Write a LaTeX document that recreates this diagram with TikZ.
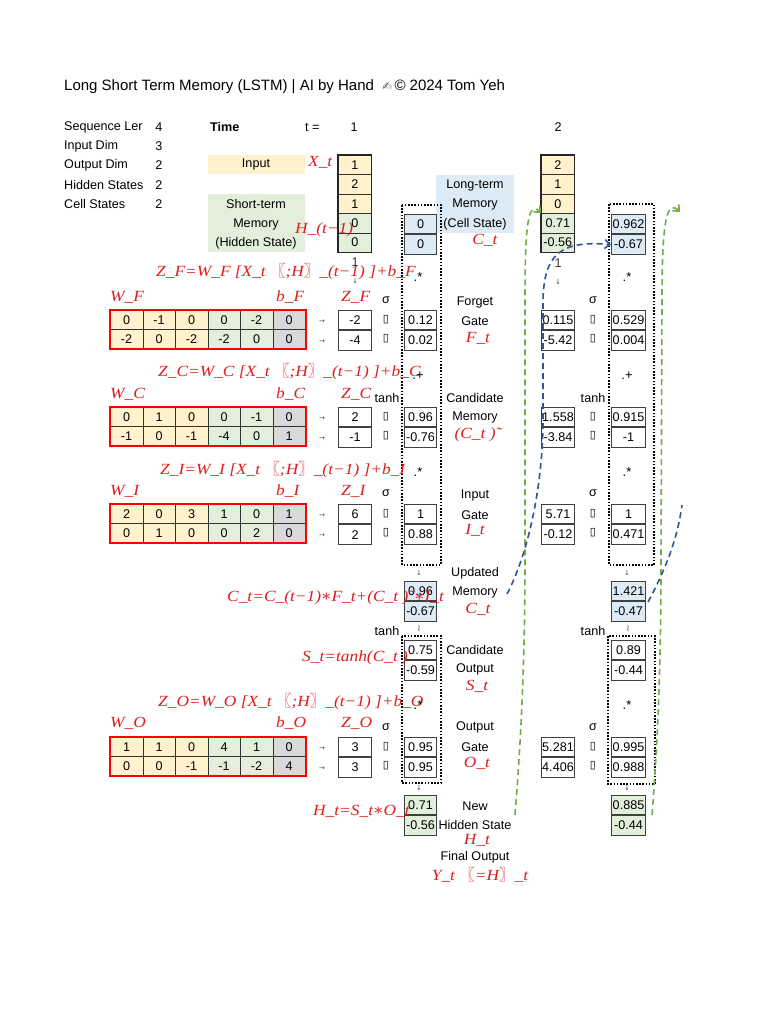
\documentclass[tikz,border=0pt]{standalone}
\usepackage{fontspec}
\setmainfont{Liberation Sans}
\newfontfamily\rmathf{Liberation Serif}[FakeStretch=1.12]
\newfontfamily\djf{DejaVu Sans}
\newfontfamily\djsf{DejaVu Serif}
\newfontfamily\cjkf{Noto Sans CJK SC}
\usetikzlibrary{arrows.meta}
\definecolor{cyel}{HTML}{FFF2CC}
\definecolor{cgrn}{HTML}{E2EFDA}
\definecolor{cblu}{HTML}{DDEBF7}
\definecolor{cgry}{HTML}{D9D9D9}
\definecolor{fred}{RGB}{222,30,30}
\definecolor{dgrn}{HTML}{70AD47}
\definecolor{dblu}{HTML}{2F5597}
\colorlet{mc1}{cyel}\colorlet{mc2}{cyel}\colorlet{mc3}{cyel}
\colorlet{mc4}{cgrn}\colorlet{mc5}{cgrn}\colorlet{mc6}{cgry}
\newcommand\lbk{{\cjkf\upshape 〖}}
\newcommand\rbk{{\cjkf\upshape 〗}}
\newcommand\mst{{\djsf\upshape ∗}}
\tikzset{
 lbl/.style={font=\fontsize{12.6}{15}\selectfont, inner sep=0pt, anchor=center},
 lblw/.style={lbl, anchor=west},
 rtxt/.style={font=\rmathf\itshape\fontsize{15.5}{17}\selectfont, text=fred, inner sep=0pt},
 cell/.style={draw=black!80, line width=0.6pt, minimum width=32.5pt, minimum height=19.4pt, inner sep=0pt, font=\fontsize{12.6}{15}\selectfont, anchor=north west},
 vcell/.style={draw=black!75, line width=1pt, minimum height=19.4pt, inner sep=0pt, font=\fontsize{12.6}{15}\selectfont, anchor=north west},
 dbox/.style={draw=black, line width=1.6pt, dash pattern=on 1.6pt off 1.6pt},
 smarr/.style={font=\djf\fontsize{7}{8}\selectfont, text=black!70, inner sep=0pt},
 tofu/.style={font=\djf\fontsize{11}{12}\selectfont, inner sep=0pt},
 opsym/.style={font=\fontsize{13}{15}\selectfont, inner sep=0pt},
 gdash/.style={draw=dgrn, line width=1.6pt, dash pattern=on 6pt off 4pt},
 bdash/.style={draw=dblu, line width=1.6pt, dash pattern=on 6pt off 4pt}
}
\newcommand\vpair[7]{%
 \node[vcell, fill=#5, minimum width=#4pt] (#1a) at (#2,#3) {#6};
 \node[vcell, fill=#5, minimum width=#4pt, anchor=north] (#1b) at (#1a.south) {#7};}
\newcommand\wmat[4]{%
 \foreach \v [count=\c] in {#3} {\node[cell, fill=mc\c] (#1r1c\c) at ({110+(\c-1)*32.5},#2) {\v};}
 \foreach \v [count=\c] in {#4} {\node[cell, fill=mc\c] (#1r2c\c) at ({110+(\c-1)*32.5},{#2+19.4}) {\v};}
 \draw[red, line width=2pt] (#1r1c1.north west) rectangle (#1r2c6.south east);}
\begin{document}
\begin{tikzpicture}[x=1pt,y=-1pt]
\fill[white] (0,0) rectangle (768,1024);
\useasboundingbox (0,0) rectangle (768,1024);

% title
\node[lblw] (title) at (64,87) {\fontsize{15}{18}\selectfont Long Short Term Memory (LSTM) | AI by Hand\ \ {\djf\fontsize{11.5}{12}\selectfont\color{black!65}✍}\,© 2024 Tom Yeh};

% parameters
\foreach \t/\v [count=\i] in {Sequence Ler/4, Input Dim/3, Output Dim/2, Hidden States/2, Cell States/2} {
 \node[lblw] (p\i) at (64,{127+(\i-1)*19.3}) {\t};
 \node[lbl] (pv\i) at (159,{127+(\i-1)*19.3}) {\v};
}
\node[lblw, font=\bfseries\fontsize{12.6}{15}\selectfont] (time) at (210,127) {Time};
\node[lblw] (teq) at (305,127) {t =};
\node[lbl] (t1) at (354,127) {1};
\node[lbl] (t2) at (558,127) {2};

% label boxes
\fill[cyel] (208,155) rectangle (305,174);
\node[lbl] (inlbl) at (256,164.5) {Input};
\fill[cgrn] (208,194) rectangle (305,252);
\node[lbl] (st1) at (256,204) {Short-term};
\node[lbl] (st2) at (256,224) {Memory};
\node[lbl] (st3) at (256,243) {(Hidden State)};
\fill[cblu] (436,175) rectangle (514,233);
\node[lbl] (lt1) at (475,185) {Long-term};
\node[lbl] (lt2) at (475,204.5) {Memory};
\node[lbl] (lt3) at (475,224) {(Cell State)};

% dotted boxes
\draw[dbox] (402,205) rectangle (441,565);
\draw[dbox] (609,204) rectangle (654,565);
\draw[dbox] (402,636) rectangle (441,783);
\draw[dbox] (608,636) rectangle (655,784);

% input columns
\foreach \v/\f [count=\i] in {1/cyel,2/cyel,1/cyel,0/cgrn,0/cgrn}
 {\node[cell, minimum width=33pt, fill=\f] (xa\i) at (338,{155+(\i-1)*19.4}) {\v};}
\draw[black!85, line width=1.2pt] (xa1.north west) rectangle (xa5.south east);
\foreach \v/\f [count=\i] in {2/cyel,1/cyel,0/cyel,0.71/cgrn,-0.56/cgrn}
 {\node[cell, minimum width=33pt, fill=\f] (xb\i) at (541,{155+(\i-1)*19.4}) {\v};}
\draw[black!85, line width=1.2pt] (xb1.north west) rectangle (xb5.south east);
\node[lbl, text=black!80] (one1) at (355,262) {1};
\node[smarr] (dn1) at (355,281) {↓};
\node[lbl, text=black!80] (one2) at (558,263) {1};
\node[smarr] (dn2) at (558,282) {↓};
\node[rtxt, anchor=west] (xt) at (308,162) {X\_t};
\node[rtxt, anchor=west] (htm1) at (295,230) {H\_(t−1)};
\node[rtxt] (ctl) at (485,240) {C\_t};

% previous cell states
\vpair{cza}{404}{214}{32}{cblu}{0}{0}
\vpair{czb}{611}{214}{34}{cblu}{0.962}{-0.67}

% ---------- Forget gate
\node[rtxt, anchor=west] (fzf) at (156,272) {Z\_F=W\_F [X\_t \lbk;H\rbk\_(t−1) ]+b\_F};
\node[rtxt, anchor=west] (lwf) at (110,297) {W\_F};
\node[rtxt, anchor=west] (lbf) at (276,297) {b\_F};
\node[rtxt, anchor=west] (lzf) at (341,297) {Z\_F};
\wmat{mf}{310}{0,-1,0,0,-2,0}{-2,0,-2,-2,0,0}
\vpair{zfa}{338}{310}{33}{white}{-2}{-4}
\vpair{fa}{404}{310}{32}{white}{0.12}{0.02}
\vpair{zfb}{541}{310}{33}{white}{0.115}{-5.42}
\vpair{fb}{611}{310}{34}{white}{0.529}{0.004}
\node[lbl] (sgf1) at (386,300) {σ};
\node[lbl] (sgf2) at (593,300) {σ};
\node[lbl] (fg1) at (475,302) {Forget};
\node[lbl] (fg2) at (475,321) {Gate};
\node[rtxt] (ftl) at (478,338) {F\_t};
\node[opsym] (opf1) at (418,277) {.*};
\node[opsym] (opf2) at (627,277) {.*};

% ---------- Candidate memory
\node[rtxt, anchor=west] (fzc) at (158,372) {Z\_C=W\_C [X\_t \lbk;H\rbk\_(t−1) ]+b\_C};
\node[rtxt, anchor=west] (lwc) at (110,394) {W\_C};
\node[rtxt, anchor=west] (lbc) at (276,394) {b\_C};
\node[rtxt, anchor=west] (lzc) at (341,394) {Z\_C};
\wmat{mc}{407}{0,1,0,0,-1,0}{-1,0,-1,-4,0,1}
\vpair{zca}{338}{407}{33}{white}{2}{-1}
\vpair{ca}{404}{407}{32}{white}{0.96}{-0.76}
\vpair{zcb}{541}{407}{33}{white}{1.558}{-3.84}
\vpair{cb}{611}{407}{34}{white}{0.915}{-1}
\node[lbl] (thc1) at (387,398) {tanh};
\node[lbl] (thc2) at (593,398) {tanh};
\node[lbl] (cm1) at (475,398) {Candidate};
\node[lbl] (cm2) at (475,417) {Memory};
\node[rtxt] (ctt) at (478,435) {(C\_t )˜};
\node[opsym] (opc1) at (418,376) {.+};
\node[opsym] (opc2) at (627,376) {.+};

% ---------- Input gate
\node[rtxt, anchor=west] (fzi) at (160,470) {Z\_I=W\_I [X\_t \lbk;H\rbk\_(t−1) ]+b\_I};
\node[rtxt, anchor=west] (lwi) at (110,491) {W\_I};
\node[rtxt, anchor=west] (lbi) at (276,491) {b\_I};
\node[rtxt, anchor=west] (lzi) at (341,491) {Z\_I};
\wmat{mi}{504}{2,0,3,1,0,1}{0,1,0,0,2,0}
\vpair{zia}{338}{504}{33}{white}{6}{2}
\vpair{ia}{404}{504}{32}{white}{1}{0.88}
\vpair{zib}{541}{504}{33}{white}{5.71}{-0.12}
\vpair{ib}{611}{504}{34}{white}{1}{0.471}
\node[lbl] (sgi1) at (386,493) {σ};
\node[lbl] (sgi2) at (593,493) {σ};
\node[lbl] (ig1) at (475,495) {Input};
\node[lbl] (ig2) at (475,515) {Gate};
\node[rtxt] (itl) at (475,530) {I\_t};
\node[opsym] (opi1) at (418,472) {.*};
\node[opsym] (opi2) at (627,472) {.*};

% ---------- Updated memory
\node[smarr] (dnu1) at (419,573) {↓};
\node[smarr] (dnu2) at (627,573) {↓};
\vpair{ua}{404}{581}{32}{cblu}{0.96}{-0.67}
\vpair{ub}{611}{581}{34}{cblu}{1.421}{-0.47}
\node[lbl] (um1) at (475,573) {Updated};
\node[lbl] (um2) at (475,592) {Memory};
\node[rtxt] (utl) at (478,609) {C\_t};
\node[rtxt, anchor=west] (fcu) at (227,598) {C\_t=C\_(t−1)\mst F\_t+(C\_t )˜\mst I\_t};

% ---------- Candidate output
\node[lbl] (tho1) at (387,631) {tanh};
\node[lbl] (tho2) at (593,631) {tanh};
\node[smarr, font=\djf\fontsize{9}{10}\selectfont] (wv1) at (419,629) {≀};
\node[smarr, font=\djf\fontsize{9}{10}\selectfont] (wv2) at (628,629) {≀};
\vpair{sa}{404}{640}{32}{white}{0.75}{-0.59}
\vpair{sb}{611}{640}{34}{white}{0.89}{-0.44}
\node[lbl] (co1) at (475,650) {Candidate};
\node[lbl] (co2) at (475,669) {Output};
\node[rtxt] (stl) at (477,686) {S\_t};
\node[rtxt, anchor=west] (fst) at (302,658) {S\_t=tanh(C\_t )};

% ---------- Output gate
\node[rtxt, anchor=west] (fzo) at (158,702) {Z\_O=W\_O [X\_t \lbk;H\rbk\_(t−1) ]+b\_O};
\node[rtxt, anchor=west] (lwo) at (110,723) {W\_O};
\node[rtxt, anchor=west] (lbo) at (276,723) {b\_O};
\node[rtxt, anchor=west] (lzo) at (341,723) {Z\_O};
\wmat{mo}{737}{1,1,0,4,1,0}{0,0,-1,-1,-2,4}
\vpair{zoa}{338}{737}{33}{white}{3}{3}
\vpair{oa}{404}{737}{32}{white}{0.95}{0.95}
\vpair{zob}{541}{737}{33}{white}{5.281}{4.406}
\vpair{ob}{611}{737}{34}{white}{0.995}{0.988}
\node[lbl] (sgo1) at (386,727) {σ};
\node[lbl] (sgo2) at (593,727) {σ};
\node[lbl] (og1) at (475,727) {Output};
\node[lbl] (og2) at (475,747) {Gate};
\node[rtxt] (otl) at (477,763) {O\_t};
\node[opsym] (opo1) at (418,705) {.*};
\node[opsym] (opo2) at (627,705) {.*};

% ---------- New hidden state
\node[smarr] (dnh1) at (419,788) {↓};
\node[smarr] (dnh2) at (627,788) {↓};
\vpair{ha}{404}{795}{32}{cgrn}{0.71}{-0.56}
\vpair{hb}{611}{795}{34}{cgrn}{0.885}{-0.44}
\node[rtxt, anchor=west] (fht) at (313,811) {H\_t=S\_t\mst O\_t};
\node[lbl] (nh1) at (475,806) {New};
\node[lbl] (nh2) at (475,825) {Hidden State};
\node[rtxt] (htl) at (477,840) {H\_t};
\node[lbl] (fo) at (475,857) {Final Output};
\node[rtxt] (ytl) at (480,875) {Y\_t \lbk=H\rbk\_t};

% arrows and tofu markers (t=1 and t=2)
\foreach \n/\y in {f/310,c/407,i/504,o/737} {
 \node[smarr] (ar\n1) at (322,{\y+12}) {→};
 \node[smarr] (ar\n2) at (322,{\y+31.4}) {→};
 \node[tofu] (ta\n1) at (386,{\y+9.7}) {▯};
 \node[tofu] (ta\n2) at (386,{\y+29.1}) {▯};
 \node[tofu] (tb\n1) at (593,{\y+9.7}) {▯};
 \node[tofu] (tb\n2) at (593,{\y+29.1}) {▯};
}

% dashed connectors
\coordinate (g1s) at (515,815);
\coordinate (g1e) at (541,213);
\coordinate (g2s) at (652,815);
\coordinate (g2e) at (680,212);
\coordinate (b1s) at (507,594);
\coordinate (b2s) at (648,602);
\coordinate (b2e) at (682,505);
\draw[gdash, -{Straight Barb[length=5pt,width=9pt]}] (g1s) .. controls (521,740) and (525,660) .. (525,560) -- (525,300) .. controls (525,225) and (528,200) .. (g1e);
\draw[gdash, -{Straight Barb[length=5pt,width=9pt]}] (g2s) .. controls (658,740) and (661,660) .. (661,560) -- (662,300) .. controls (662,225) and (666,198) .. (g2e);
\draw[bdash, -{Straight Barb[length=5pt,width=9pt]}] (b1s) .. controls (530,550) and (543,480) .. (543,420) -- (543,300) .. controls (544,255) and (560,240) .. (czbb.west);
\draw[bdash] (b2s) .. controls (668,565) and (678,535) .. (b2e);
\end{tikzpicture}
\end{document}
